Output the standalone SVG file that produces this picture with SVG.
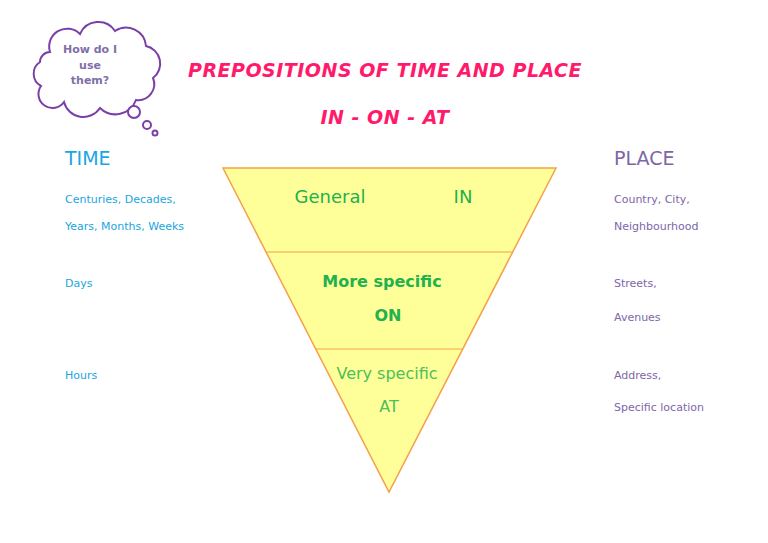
<svg xmlns="http://www.w3.org/2000/svg" width="768" height="543" viewBox="0 0 768 543">
<style>
.title{font-family:"DejaVu Sans",sans-serif;font-weight:bold;font-style:italic;fill:#ff1a6c;font-size:19px;text-anchor:middle;letter-spacing:0.5px}
.tri{fill:#ffff99;stroke:#f5a04a;stroke-width:1.5}
.div{stroke:#f5a04a;stroke-width:1.2}
.g{font-family:"DejaVu Sans",Verdana,sans-serif;fill:#22b14c;text-anchor:middle}
.time{font-family:"DejaVu Sans",Verdana,sans-serif;fill:#1aa6e0;font-size:11px}
.place{font-family:"DejaVu Sans",Verdana,sans-serif;fill:#7d66a8;font-size:11px}
.cloud{fill:#fff;stroke:#7a3fa8;stroke-width:2}
.ct{font-family:"DejaVu Sans",Verdana,sans-serif;font-weight:bold;fill:#8070a8;font-size:11px;text-anchor:middle}
</style>
<rect width="768" height="543" fill="#fff"/>
<g id="cloud">
<path class="cloud" d="M50,52 A18,18 0 0 1 80,34 A20,20 0 0 1 115,31 A20,20 0 0 1 146,46 A18,18 0 0 1 153,78 A16,16 0 0 1 136,100 A22,22 0 0 1 100,108 A20,20 0 0 1 64,102 A14,14 0 0 1 41,86 A14,14 0 0 1 40,62 A10,10 0 0 1 50,52 Z"/>
<circle class="cloud" cx="134" cy="112" r="6"/>
<circle class="cloud" cx="147" cy="125" r="4"/>
<circle class="cloud" cx="155" cy="133" r="2.5"/>
<text class="ct" x="90" y="53">How do I</text>
<text class="ct" x="90" y="69">use</text>
<text class="ct" x="90" y="84">them?</text>
</g>
<g id="title">
<text class="title" x="385" y="77">PREPOSITIONS OF TIME AND PLACE</text>
<text class="title" x="385" y="124">IN - ON - AT</text>
</g>
<g id="pyramid">
<polygon class="tri" points="223,168 556,168 389,492"/>
<line class="div" x1="266" y1="252" x2="513" y2="252"/>
<line class="div" x1="316" y1="349" x2="463" y2="349"/>
</g>
<g id="level-in">
<text class="g" x="330" y="203" font-size="18">General</text>
<text class="g" x="463" y="203" font-size="18">IN</text>
</g>
<g id="level-on">
<text class="g" x="382" y="287" font-size="16" font-weight="bold">More specific</text>
<text class="g" x="388" y="321" font-size="16" font-weight="bold">ON</text>
</g>
<g id="level-at">
<text class="g" x="387" y="379" font-size="16" fill="#4cc05a" style="fill:#4cc05a">Very specific</text>
<text class="g" x="389" y="412" font-size="16" style="fill:#4cc05a">AT</text>
</g>
<g id="time">
<text x="65" y="165" style="font-family:'DejaVu Sans',sans-serif;font-size:19px;fill:#1aa6e0">TIME</text>
<text class="time" x="65" y="203">Centuries, Decades,</text>
<text class="time" x="65" y="230">Years, Months, Weeks</text>
<text class="time" x="65" y="287">Days</text>
<text class="time" x="65" y="379">Hours</text>
</g>
<g id="place">
<text x="614" y="165" style="font-family:'DejaVu Sans',sans-serif;font-size:19px;fill:#7d66a8">PLACE</text>
<text class="place" x="614" y="203">Country, City,</text>
<text class="place" x="614" y="230">Neighbourhood</text>
<text class="place" x="614" y="287">Streets,</text>
<text class="place" x="614" y="321">Avenues</text>
<text class="place" x="614" y="379">Address,</text>
<text class="place" x="614" y="411">Specific location</text>
</g>
<g id="connectors"></g>
</svg>
